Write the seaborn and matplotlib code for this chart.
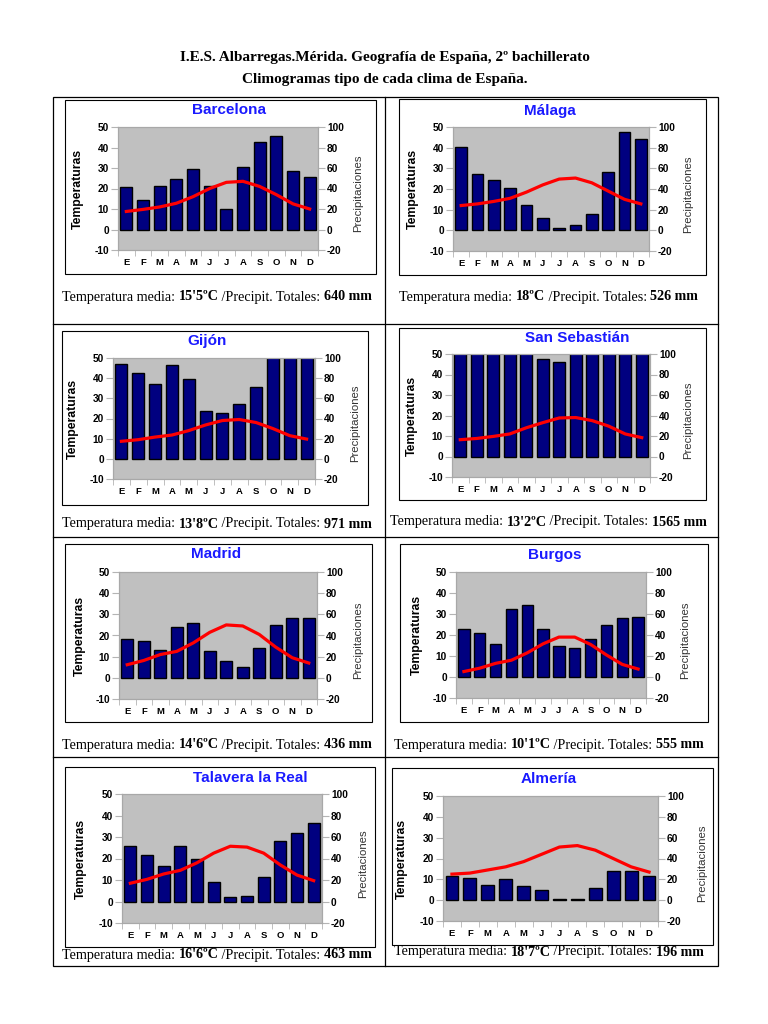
import matplotlib
matplotlib.use("Agg")
import matplotlib.pyplot as plt
import seaborn as sns
from matplotlib.patches import Rectangle

# --- Datos ---
meses = ["E", "F", "M", "A", "M", "J", "J", "A", "S", "O", "N", "D"]

ciudades = ["Barcelona", "Málaga", "Gijón", "San Sebastián",
            "Madrid", "Burgos", "Talavera la Real", "Almería"]

temp_barcelona = [8.8, 9.8, 11, 12.8, 16, 20, 23, 23.5, 21, 17, 12.5, 10]
prec_barcelona = [41, 29, 42, 49, 59, 42, 20, 61, 85, 91, 57, 51]

temp_malaga = [12, 12.8, 14, 15.5, 18.5, 22, 24.8, 25.3, 23, 19, 15, 12.8]
prec_malaga = [81, 55, 49, 41, 25, 12, 2, 5, 16, 56, 95, 88]

temp_gijon = [8.7, 9.5, 10.8, 11.8, 14, 16.8, 19, 19.5, 18, 15, 11.5, 9.8]
prec_gijon = [94, 85, 74, 93, 79, 47, 45, 54, 71, 110, 116, 103]

temp_sansebastian = [8.2, 8.8, 9.8, 11, 14, 16.5, 18.8, 19, 17.5, 14.8, 11, 9.2]
prec_sansebastian = [140, 125, 115, 145, 125, 95, 92, 110, 140, 150, 175, 153]

temp_madrid = [6.2, 8.2, 11, 12.5, 16.5, 21.5, 25, 24.5, 20.5, 14.5, 9.5, 7]
prec_madrid = [37, 35, 26, 48, 52, 25, 16, 10, 28, 50, 57, 57]

temp_burgos = [2.6, 4.2, 6.5, 8, 11.5, 15.8, 19, 19, 15.5, 10.5, 6, 3.8]
prec_burgos = [46, 42, 31, 65, 69, 46, 30, 28, 36, 50, 56, 57]

temp_talavera = [8.5, 10.3, 12.8, 14.5, 18, 22.5, 25.7, 25.3, 22.5, 17, 12.3, 9.7]
prec_talavera = [52, 43, 33, 52, 40, 18, 4, 5, 23, 56, 64, 73]

temp_almeria = [12.5, 13, 14.5, 16, 18.5, 22, 25.5, 26.2, 24, 20, 16, 13.5]
prec_almeria = [23, 21, 15, 20, 14, 10, 1, 1, 12, 28, 28, 23]

temperaturas = [temp_barcelona, temp_malaga, temp_gijon, temp_sansebastian,
                temp_madrid, temp_burgos, temp_talavera, temp_almeria]
precipitaciones = [prec_barcelona, prec_malaga, prec_gijon, prec_sansebastian,
                   prec_madrid, prec_burgos, prec_talavera, prec_almeria]

temp_media = ["15'5ºC", "18ºC", "13'8ºC", "13'2ºC", "14'6ºC", "10'1ºC", "16'6ºC", "18'7ºC"]
prec_total = ["640 mm", "526 mm", "971 mm", "1565 mm", "436 mm", "555 mm", "463 mm", "196 mm"]
etiqueta_prec = ["Precipitaciones"] * 6 + ["Precitaciones", "Precipitaciones"]

# --- Maquetación (pixeles) ---
W, H = 768, 1024
# caja gris (x0, y0, x1, y1)
cajas = [(118, 127, 318, 250), (453, 127, 649, 251),
         (113, 358, 315, 479), (452, 354, 650, 477),
         (119, 572, 317, 699), (456, 572, 646, 698),
         (122, 794, 322, 923), (443, 796, 658, 921)]
marcos = [(65, 100, 376, 274), (399, 99, 706, 275),
          (62, 331, 368, 505), (399, 328, 706, 500),
          (65, 544, 372, 722), (400, 544, 708, 722),
          (65, 767, 375, 947), (392, 768, 713, 945)]
titulos_xy = [(229, 110), (550, 111), (207, 341), (577, 338),
              (216, 554), (555, 555), (250, 778), (549, 779)]
ylab_x = [78, 413, 73, 412, 80, 417, 81, 402]
rlab_x = [358, 688, 355, 688, 358, 685, 363, 702]
pies_xy = [(62, 297), (399, 297), (62, 524), (390, 522),
           (62, 745), (394, 745), (62, 955), (394, 952)]

plt.rcParams['font.family'] = ['Liberation Sans', 'DejaVu Sans']
plt.rcParams['axes.unicode_minus'] = False
fig = plt.figure(figsize=(W / 100, H / 100), dpi=100)

# fondo en coordenadas de pixel
bg = fig.add_axes([0, 0, 1, 1], zorder=-5)
bg.set_xlim(0, W)
bg.set_ylim(H, 0)
bg.axis('off')

serif = ['Liberation Serif', 'DejaVu Serif']
bg.text(385, 57, "I.E.S. Albarregas.Mérida. Geografía de España, 2º bachillerato",
        family=serif, weight='bold', fontsize=11, ha='center', va='center')
bg.text(385, 80, "Climogramas tipo de cada clima de España.",
        family=serif, weight='bold', fontsize=11, ha='center', va='center')

# tabla
bg.add_patch(Rectangle((53, 97), 665, 869, fill=False, ec='black', lw=0.9))
for yy in [324, 537, 757]:
    bg.plot([53, 718], [yy, yy], color='black', lw=0.9)
bg.plot([385, 385], [97, 966], color='black', lw=0.9)

for i, ciudad in enumerate(ciudades):
    x0, y0, x1, y1 = cajas[i]
    mx0, my0, mx1, my1 = marcos[i]
    bg.add_patch(Rectangle((mx0, my0), mx1 - mx0, my1 - my0, fill=False, ec='black', lw=0.8))

    ax = fig.add_axes([x0 / W, 1 - y1 / H, (x1 - x0) / W, (y1 - y0) / H])
    ax2 = ax.twinx()

    sns.barplot(x=list(range(12)), y=precipitaciones[i], ax=ax2, color='#000080',
                saturation=1, edgecolor='black', linewidth=1, width=0.72)
    sns.lineplot(x=list(range(12)), y=temperaturas[i], ax=ax, color='#ff0000', lw=2.3)

    ax.set_zorder(ax2.get_zorder() + 1)
    ax.patch.set_visible(False)
    ax2.patch.set_visible(True)
    ax2.set_facecolor('#c0c0c0')

    ax.set_ylim(-10, 50)
    ax2.set_ylim(-20, 100)
    ax.set_yticks(range(-10, 51, 10))
    ax2.set_yticks(range(-20, 101, 20))
    ax.set_xlim(-0.5, 11.5)
    ax.set_xticks(range(12))
    ax.set_xticklabels(meses)
    ax.set_xticks([k - 0.5 for k in range(13)], minor=True)
    ax.tick_params(axis='x', which='major', length=0, pad=6)
    ax.tick_params(axis='x', which='minor', length=4, color='#b4b4b4')
    for a in (ax, ax2):
        a.set_xlabel('')
        a.set_ylabel('')
        a.tick_params(axis='y', length=5, color='#b4b4b4', pad=1.5, labelsize=7.3)
        a.tick_params(axis='x', labelsize=6.8)
        for lab in a.get_yticklabels() + a.get_xticklabels():
            lab.set_fontweight('bold')
        for sp in a.spines.values():
            sp.set_color('#a8a8a8')
            sp.set_linewidth(0.8)

    tx, ty = titulos_xy[i]
    bg.text(tx, ty, ciudad, color='#1a1aff', weight='bold', fontsize=11,
            ha='center', va='center')
    cy = (y0 + y1) / 2
    bg.text(ylab_x[i], cy, "Temperaturas", rotation=90, weight='bold', fontsize=8.8,
            ha='center', va='center')
    bg.text(rlab_x[i], cy + 5, etiqueta_prec[i], rotation=90, fontsize=8.2,
            color='#333333', ha='center', va='center')

    # pie de cada climograma
    px, py = pies_xy[i]
    partes = [("Temperatura media: ", 'normal'), (temp_media[i], 'bold'),
              (" /Precipit. Totales: ", 'normal'), (prec_total[i], 'bold')]
    prev = bg.text(px, py, partes[0][0], family=serif, fontsize=10.2,
                   ha='left', va='center')
    for s, w in partes[1:]:
        prev = bg.annotate(s, xy=(1, 0), xycoords=prev, family=serif, fontsize=10.2,
                           weight=w, ha='left', va='bottom')

fig.savefig('out.png', dpi=100)
